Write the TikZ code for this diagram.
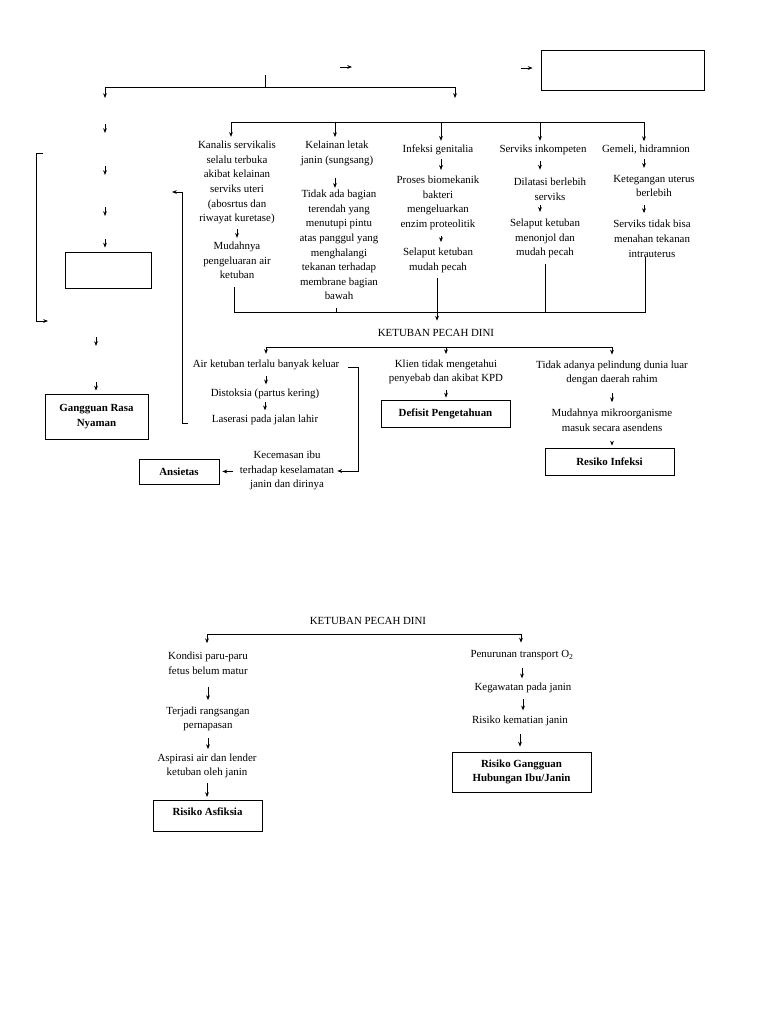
\documentclass[tikz,border=0pt]{standalone}
\usepackage{fontspec}
\setmainfont{Liberation Serif}
\usetikzlibrary{arrows.meta}
\newcommand\myfs{\fontsize{10.9}{14.6}\selectfont}
\begin{document}
\begin{tikzpicture}[x=1pt,y=-1pt,
  t/.style={align=center,inner sep=0pt,font=\myfs,yshift=-1pt},
  bx/.style={draw,line width=0.85pt,inner sep=0pt,align=center,font=\myfs\bfseries},
  ln/.style={line width=0.7pt},
  ar/.style={ln,-{Stealth[length=4.8pt,width=3.8pt]},shorten <=5pt,shorten >=4pt},
  arz/.style={ar,shorten <=0pt,shorten >=0pt}]
\useasboundingbox (0,0) rectangle (768,1024);

% ---------- top (blank) part ----------
\coordinate (ta) at (340,67); \coordinate (tb) at (352,67);
\draw[arz] (ta) -- (tb);
\node[bx,minimum width=163,minimum height=40] (tr) at (622.5,70) {};
\coordinate (tc) at (521,68);
\draw[arz,shorten >=8pt] (tc) -- (tc -| tr.west);

\coordinate (s0) at (265,75); \coordinate (s1) at (265,87);
\coordinate (sl) at (105,87); \coordinate (sr) at (455,87);
\coordinate (sl2) at (105,98); \coordinate (sr2) at (455,98);
\draw[ln] (s0) -- (s1);
\draw[ln] (sl) -- (sr);
\draw[arz] (sl) -- (sl2);
\draw[arz] (sr) -- (sr2);

\foreach \i/\y in {1/130,2/172,3/213}{
  \coordinate (la\i) at (105,\y-6); \coordinate (lb\i) at (105,\y+3);
  \draw[arz] (la\i) -- (lb\i);}
\node[bx,minimum width=86,minimum height=36] (lbox) at (108,270) {};
\coordinate (la4) at (105,239);
\draw[arz,shorten >=4pt] (la4) -- (la4 |- lbox.north);

\coordinate (bk0) at (43,153); \coordinate (bk1) at (48,321);
\draw[arz] (bk0) -- (36,153) -- (36,321) -- (bk1);

\coordinate (lc1) at (96,337); \coordinate (lc2) at (96,346);
\draw[arz] (lc1) -- (lc2);
\node[bx,minimum width=103,minimum height=45] (gn) at (96.5,416.5) {Gangguan Rasa\\Nyaman};
\coordinate (lc3) at (96,382);
\draw[arz,shorten >=3pt] (lc3) -- (lc3 |- gn.north);

% ---------- causes ----------
\coordinate (b1) at (231,122); \coordinate (b2) at (335,122);
\coordinate (b3) at (441,122); \coordinate (b4) at (540,122);
\coordinate (b5) at (644,122);
\draw[ln] (b1) -- (b5);

\node[t] (k1) at (237,181.5) {Kanalis servikalis\\selalu terbuka\\akibat kelainan\\serviks uteri\\(abosrtus dan\\riwayat kuretase)};
\node[t] (k2) at (237,259.5) {Mudahnya\\pengeluaran air\\ketuban};
\node[t] (l1) at (337,152.5) {Kelainan letak\\janin (sungsang)};
\node[t] (l2) at (339,244) {Tidak ada bagian\\terendah yang\\menutupi pintu\\atas panggul yang\\menghalangi\\tekanan terhadap\\membrane bagian\\bawah};
\node[t] (i1) at (438,149) {Infeksi genitalia};
\node[t] (i2) at (438,202) {Proses biomekanik\\bakteri\\mengeluarkan\\enzim proteolitik};
\node[t] (i3) at (438,259.5) {Selaput ketuban\\mudah pecah};
\node[t] (s1n) at (543,149) {Serviks inkompeten};
\node[t] (s2n) at (550,188) {Dilatasi berlebih\\serviks};
\node[t] (s3n) at (545,237.7) {Selaput ketuban\\menonjol dan\\mudah pecah};
\node[t] (g1) at (646,149) {Gemeli, hidramnion};
\node[t] (g2) at (654,185) {Ketegangan uterus\\berlebih};
\node[t] (g3) at (652,237.7) {Serviks tidak bisa\\menahan tekanan\\intrauterus};

\draw[arz,shorten >=4pt] (b1) -- (b1 |- k1.north);
\draw[arz,shorten >=4pt] (b2) -- (b2 |- l1.north);
\draw[arz,shorten >=4pt] (b3) -- (b3 |- i1.north);
\draw[arz,shorten >=4pt] (b4) -- (b4 |- s1n.north);
\draw[arz,shorten >=4pt] (b5) -- (b5 |- g1.north);

\draw[ar] (k1.south) -- (k2.north);
\draw[ar,shorten <=12pt,shorten >=2pt] (l1.south -| b2) -- (l2.north -| b2);
\draw[ar,shorten <=4pt,shorten >=6pt] (i1.south -| b3) -- (i2.north -| b3);
\draw[ar,shorten <=6pt,shorten >=6pt] (i2.south -| b3) -- (i3.north -| b3);
\draw[ar,shorten <=6pt,shorten >=8pt] (s1n.south -| b4) -- (s2n.north -| b4);
\draw[ar,shorten <=5pt,shorten >=7pt] (s2n.south -| b4) -- (s3n.north -| b4);
\draw[ar,shorten <=4pt,shorten >=7pt] (g1.south -| b5) -- (g2.north -| b5);
\draw[ar,shorten <=8pt,shorten >=7pt] (g2.south -| b5) -- (g3.north -| b5);

% ---------- merge ----------
\node[t] (kpd) at (436,331.5) {KETUBAN PECAH DINI};
\coordinate (j1) at (234,312); \coordinate (j5) at (645,312);
\coordinate (m2) at (336,312); \coordinate (m3) at (437,312); \coordinate (m4) at (545,312);
\draw[ln,shorten <=8pt] (k2.south -| j1) -- (j1) -- (j5) -- (g3.south -| j5);
\draw[ln,shorten <=7.5pt] (l2.south -| m2) -- (m2);
\draw[ln,shorten <=6pt] (s3n.south -| m4) -- (m4);
\draw[ar,shorten <=5pt,shorten >=8pt] (i3.south -| m3) -- (m3 |- kpd.north);

% ---------- effects ----------
\coordinate (c1) at (266,347); \coordinate (c2) at (446,347); \coordinate (c3) at (612,347);
\draw[ln] (c1) -- (c3);

\node[t] (a1) at (266,364) {Air ketuban terlalu banyak keluar};
\node[t] (a2) at (265,393) {Distoksia (partus kering)};
\node[t] (a3) at (265,419) {Laserasi pada jalan lahir};
\node[t] (kec) at (287,469.5) {Kecemasan ibu\\terhadap keselamatan\\janin dan dirinya};
\node[bx,minimum width=80,minimum height=25] (ans) at (179,471.5) {Ansietas};

\node[t] (kl) at (446,371) {Klien tidak mengetahui\\penyebab dan akibat KPD};
\node[bx,minimum width=129,minimum height=27] (dp) at (445.5,413.5) {Defisit Pengetahuan};

\node[t] (td) at (612,372) {Tidak adanya pelindung dunia luar\\dengan daerah rahim};
\node[t] (mk) at (612,419.5) {Mudahnya mikroorganisme\\masuk secara asendens};
\node[bx,minimum width=129,minimum height=27] (ri) at (609.5,461.5) {Resiko Infeksi};

\draw[arz,shorten >=6pt] (c1) -- (c1 |- a1.north);
\draw[arz,shorten >=5.5pt] (c2) -- (c2 |- kl.north);
\draw[arz,shorten >=6pt] (c3) -- (c3 |- td.north);

\draw[ar,shorten <=6pt,shorten >=4.5pt] (a1.south) -- (a1.south |- a2.north);
\draw[ar,shorten <=3pt,shorten >=4.5pt] (a2.south) -- (a2.south |- a3.north);

\coordinate (fb0) at (188,423); \coordinate (fb1) at (172,192);
\draw[arz] (fb0) -- (182,423) -- (182,192) -- (fb1);

\coordinate (fr0) at (348,367); \coordinate (fr1) at (358,471);
\draw[arz,shorten >=3pt] (fr0) -- (fr0 -| fr1) -- (fr1) -- (fr1 -| kec.east);
\draw[ar,shorten <=7pt,shorten >=3pt] (kec.west |- ans) -- (ans.east);

\draw[ar,shorten <=6pt,shorten >=2pt] (kl.south) -- (kl.south |- dp.north);
\draw[ar,shorten <=8pt,shorten >=7pt] (td.south) -- (mk.north);
\draw[ar,shorten <=10pt,shorten >=2pt] (mk.south) -- (mk.south |- ri.north);

% ---------- second diagram ----------
\node[t] (kpd2) at (368,620) {KETUBAN PECAH DINI};
\coordinate (d1) at (207,634); \coordinate (d2) at (521,634);
\draw[ln] (d1) -- (d2);

\node[t] (p1) at (208,662) {Kondisi paru-paru\\fetus belum matur};
\node[t] (p2) at (208,718) {Terjadi rangsangan\\pernapasan};
\node[t] (p3) at (207,765) {Aspirasi air dan lender\\ketuban oleh janin};
\node[bx,minimum width=109,text height=7.5pt,text depth=11pt,inner ysep=6pt,anchor=north] (asf) at (207.5,800) {\raisebox{-1.5pt}{Risiko Asfiksia}};

\node[t] (q1) at (522,654) {Penurunan transport O\textsubscript{2}};
\node[t] (q2) at (523,687) {Kegawatan pada janin};
\node[t] (q3) at (520,720) {Risiko kematian janin};
\node[bx,minimum width=139,minimum height=40] (rg) at (521.5,772) {Risiko Gangguan\\Hubungan Ibu/Janin};

\draw[arz,shorten >=8.5pt] (d1) -- (d1 |- p1.north);
\draw[arz,shorten >=7.5pt] (d2) -- (d2 |- q1.north);

\draw[ar,shorten <=12.5pt,shorten >=6.5pt] (p1.south) -- (p1.south |- p2.north);
\draw[ar,shorten <=7pt,shorten >=4.5pt] (p2.south) -- (p2.south |- p3.north);
\draw[ar,shorten <=5pt,shorten >=3pt] (p3.south) -- (p3.south |- asf.north);

\draw[ar,shorten <=8pt,shorten >=4.5pt] (q1.south) -- (q1.south |- q2.north);
\draw[ar,shorten <=6pt,shorten >=5.5pt] (q2.south) -- (q2.south |- q3.north);
\draw[ar,shorten <=8pt,shorten >=5pt] (q3.south) -- (q3.south |- rg.north);
\end{tikzpicture}
\end{document}
